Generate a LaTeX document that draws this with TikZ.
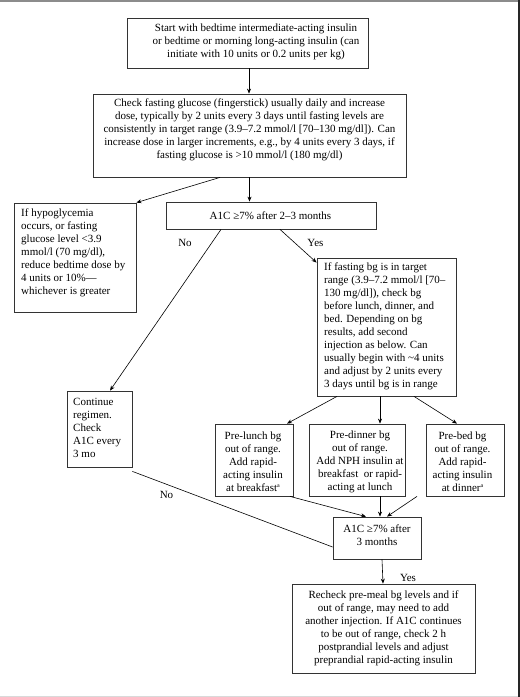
\documentclass[tikz,border=0pt]{standalone}
\usepackage{fontspec}
\setmainfont{Liberation Serif}
\usetikzlibrary{arrows.meta}
\begin{document}
\begin{tikzpicture}[x=1pt,y=-1pt,
  box/.style={draw=black!80,line width=0.8pt,rectangle,inner sep=0pt},
  txt/.style={inner sep=0pt,font=\fontsize{11}{13}\selectfont},
  lbl/.style={inner sep=0pt,font=\fontsize{11}{13}\selectfont},
  arr/.style={line width=0.6pt,-{Stealth[length=5pt,width=4pt]}},
  ln/.style={line width=0.6pt}]
\useasboundingbox (0,0) rectangle (520,697);
% frame
\draw[black!45,line width=1.5pt] (0,1) -- (520,1);
\draw[black!85,line width=1.5pt] (519,0) -- (519,697);
\draw[black!15,line width=1pt] (0,696) -- (518,696);
% boxes
\node[box,minimum width=241pt,minimum height=50pt] (b1) at (247.5,43) {};
\node[txt,align=center] (t1) at (256,42) {Start with bedtime intermediate-acting insulin\\or bedtime or morning long-acting insulin (can\\initiate with 10 units or 0.2 units per kg)};
\node[box,minimum width=313pt,minimum height=83pt] (b2) at (249.5,135.5) {};
\node[txt,align=center] (t2) at (249.5,130) {Check fasting glucose (fingerstick) usually daily and increase\\dose, typically by 2 units every 3 days until fasting levels are\\consistently in target range (3.9–7.2 mmol/l [70–130 mg/dl]). Can\\increase dose in larger increments, e.g., by 4 units every 3 days, if\\fasting glucose is >10 mmol/l (180 mg/dl)};
\node[box,minimum width=122pt,minimum height=109pt] (hypo) at (75,257.5) {};
\node[txt,align=left,anchor=west] (th) at (21,252.5) {If hypoglycemia\\occurs, or fasting\\glucose level <3.9\\mmol/l (70 mg/dl),\\reduce bedtime dose by\\4 units or 10\%—\\whichever is greater};
\node[box,minimum width=210pt,minimum height=27pt] (a1) at (271,215.5) {};
\node[txt] (ta1) at (270.5,215.5) {A1C ≥7\% after 2–3 months};
\node[box,minimum width=139pt,minimum height=138pt] (fast) at (386.5,327) {};
\node[txt,align=left,anchor=west] (tf) at (324,326.5) {If fasting bg is in target\\range (3.9–7.2 mmol/l [70–\\130 mg/dl]), check bg\\before lunch, dinner, and\\bed. Depending on bg\\results, add second\\injection as below. Can\\usually begin with \textasciitilde4 units\\and adjust by 2 units every\\3 days until bg is in range};
\node[box,minimum width=65pt,minimum height=76pt] (cont) at (99.5,429) {};
\node[txt,align=left,anchor=west] (tc) at (73,427.5) {Continue\\regimen.\\Check\\A1C every\\3 mo};
\node[box,minimum width=78pt,minimum height=72pt] (lunch) at (254,460) {};
\node[txt,align=center] (tl) at (253,461.5) {Pre-lunch bg\\out of range.\\Add rapid-\\acting insulin\\at breakfast{\fontsize{6}{6}\selectfont\raisebox{3.5pt}{a}}};
\node[box,minimum width=96pt,minimum height=72pt] (dinner) at (357,460) {};
\node[txt,align=center] (td) at (360,461.5) {Pre-dinner bg\\out of range.\\Add NPH insulin at\\breakfast\ \ or rapid-\\acting at lunch};
\node[box,minimum width=78pt,minimum height=72pt] (bed) at (465,460) {};
\node[txt,align=center] (tb) at (462.5,461.5) {Pre-bed bg\\out of range.\\Add rapid-\\acting insulin\\at dinner{\fontsize{6}{6}\selectfont\raisebox{3.5pt}{a}}};
\node[box,minimum width=88pt,minimum height=42pt] (a2) at (377,538) {};
\node[txt,align=center] (ta2) at (377,535.5) {A1C ≥7\% after\\3 months};
\node[box,minimum width=183pt,minimum height=89pt] (fin) at (383.5,628.5) {};
\node[txt,align=center] (tfin) at (383.5,628.5) {Recheck pre-meal bg levels and if\\out of range, may need to add\\another injection. If A1C continues\\to be out of range, check 2 h\\postprandial levels and adjust\\preprandial rapid-acting insulin};
% connectors
\draw[arr] ([xshift=1.5pt]b1.south) -- ([xshift=1.5pt]b1.south |- b2.north);
\draw[arr] (b2.south) -- (b2.south |- a1.north);
\draw[arr] ([xshift=-29.5pt]b2.south) -- (hypo.north east);
\draw[arr] ([xshift=-50pt]a1.south) -- ([xshift=10.5pt]cont.north);
\draw[arr] ([xshift=9pt]a1.south) -- ([yshift=-5pt]fast.north west);
\draw[arr] ([xshift=-49.5pt]fast.south) -- ([xshift=33pt]lunch.north);
\draw[arr] ([xshift=-6.5pt]fast.south) -- ([xshift=-6.5pt]fast.south |- dinner.north);
\draw[arr] ([xshift=27.5pt]fast.south) -- ([xshift=-8pt]bed.north);
\draw[arr] ([xshift=36pt]lunch.south) -- ([xshift=-11pt]a2.north);
\draw[arr] ([xshift=3pt]a2.north |- dinner.south) -- ([xshift=3pt]a2.north);
\draw[arr] ([xshift=-48pt]bed.south) -- ([xshift=10pt]a2.north);
\draw[ln] ([yshift=-4pt]cont.south east) -- ([yshift=-9pt]a2.west);
\draw[arr] ([xshift=5pt]a2.south) -- ([xshift=-0.5pt]fin.north);
% labels
\node[lbl] (no1) at (185,243) {No};
\node[lbl] (yes1) at (315.5,243) {Yes};
\node[lbl] (no2) at (166.5,495) {No};
\node[lbl] (yes2) at (408,578) {Yes};
\end{tikzpicture}
\end{document}
